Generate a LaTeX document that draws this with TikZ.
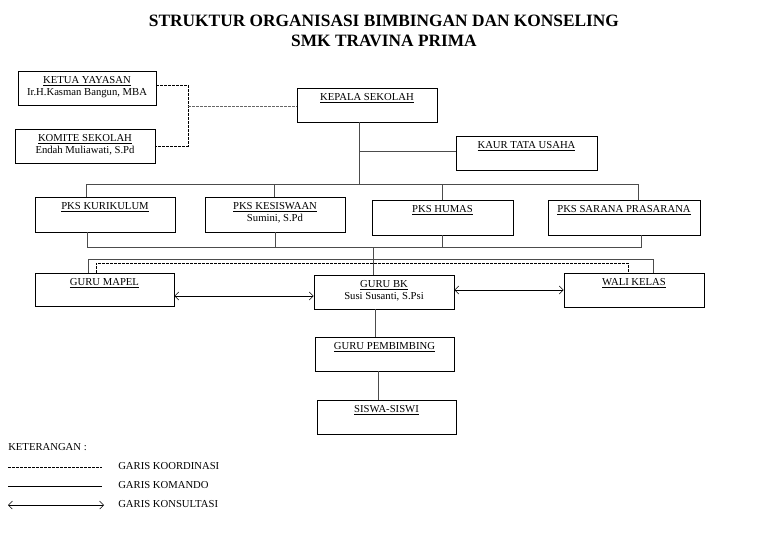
\documentclass[tikz,border=0pt]{standalone}
\usepackage{fontspec}
\setmainfont{Liberation Serif}
\usetikzlibrary{fit,arrows.meta}
\newcommand\mybx[6]{\node[draw,line width=0.6pt,inner sep=0pt,fit={(#2,#3)(#4,#5)}] (#1) {};
\node[anchor=north,inner sep=1pt,align=center,font=\fontsize{8}{9}\selectfont,yshift=-3pt] at (#1.north) {#6};}
\begin{document}
\begin{tikzpicture}[x=0.75pt,y=-0.75pt,
 ln/.style={line width=0.4pt,black!70},
 dsh/.style={line width=0.5pt,dashed,dash pattern=on 2pt off 1pt},
 arr/.style={line width=0.4pt,{Straight Barb[length=3pt]}-{Straight Barb[length=3pt]}}]
\useasboundingbox (0,0) rectangle (768,543);
\node[font=\bfseries\fontsize{13}{15}\selectfont,align=center] (title) at (384,31) {STRUKTUR ORGANISASI BIMBINGAN DAN KONSELING\\SMK TRAVINA PRIMA};
\mybx{ketua}{18}{71}{156}{105}{\underline{KETUA YAYASAN}\\Ir.H.Kasman Bangun, MBA}
\mybx{komite}{15}{129}{155}{163}{\underline{KOMITE SEKOLAH}\\Endah Muliawati, S.Pd}
\mybx{kepala}{297}{88}{437}{122}{\underline{KEPALA SEKOLAH}}
\mybx{kaur}{456}{136}{597}{170}{\underline{KAUR TATA USAHA}}
\mybx{kur}{35}{197}{175}{232}{\underline{PKS KURIKULUM}}
\mybx{kes}{205}{197}{345}{232}{\underline{PKS KESISWAAN}\\Sumini, S.Pd}
\mybx{hum}{372}{200}{513}{235}{\underline{PKS HUMAS}}
\mybx{sar}{548}{200}{700}{235}{\underline{PKS SARANA PRASARANA}}
\mybx{mapel}{35}{273}{174}{306}{\underline{GURU MAPEL}}
\mybx{bk}{314}{275}{454}{309}{\underline{GURU BK}\\Susi Susanti, S.Psi}
\mybx{wali}{564}{273}{704}{307}{\underline{WALI KELAS}}
\mybx{pemb}{315}{337}{454}{371}{\underline{GURU PEMBIMBING}}
\mybx{siswa}{317}{400}{456}{434}{\underline{SISWA-SISWI}}
% coordination
\coordinate (d1) at (188,85); \coordinate (d2) at (188,146); \coordinate (dm) at (188,106);
\draw[dsh] (ketua.east|-d1) -- (d1) -- (d2) -- (komite.east|-d2);
\draw[dsh,black!60] (dm) -- (kepala.west|-dm);
% command
\coordinate (k1) at (359,184); \coordinate (k2) at (359,151);
\draw[ln] (kepala.south-|k1) -- (k1);
\draw[ln] (k2) -- (kaur.west|-k2);
\draw[ln] (86,197) -- (86,184) -- (638,184) -- (638,200);
\draw[ln] (274,184) -- (274,197); \draw[ln] (442,184) -- (442,200);
\draw[ln] (87,232) -- (87,247) -- (641,247) -- (641,235);
\draw[ln] (275,232) -- (275,247); \draw[ln] (442,235) -- (442,247);
\coordinate (b1) at (373,247);
\draw[ln] (b1) -- (bk.north-|b1);
\draw[ln] (88,273) -- (88,259) -- (653,259) -- (653,273);
\draw[dsh] (96,273) -- (96,263) -- (628,263) -- (628,273);
\draw[arr] (mapel.east|-bk) ++(0,-3pt) coordinate (a1) -- (bk.west|-a1);
\draw[arr] (bk.east|-wali) ++(0,0) coordinate (a2) -- (wali.west|-a2);
\coordinate (p1) at (375,300); \coordinate (p2) at (378,300);
\draw[ln] (bk.south-|p1) -- (pemb.north-|p1);
\draw[ln] (pemb.south-|p2) -- (siswa.north-|p2);
% legend
\node[anchor=west,font=\fontsize{8}{9}\selectfont,inner sep=0] (ket) at (8,447) {KETERANGAN :};
\coordinate (l1a) at (8,467); \coordinate (l1b) at (102,467);
\coordinate (l2a) at (8,486); \coordinate (l2b) at (102,486);
\coordinate (l3a) at (8,505); \coordinate (l3b) at (104,505);
\draw[dsh] (l1a) -- (l1b); \draw[line width=0.6pt] (l2a) -- (l2b); \draw[arr] (l3a) -- (l3b);
\node[anchor=west,font=\fontsize{8}{9}\selectfont,inner sep=0] (g1) at (118,466) {GARIS KOORDINASI};
\node[anchor=west,font=\fontsize{8}{9}\selectfont,inner sep=0] (g2) at (118,485) {GARIS KOMANDO};
\node[anchor=west,font=\fontsize{8}{9}\selectfont,inner sep=0] (g3) at (118,504) {GARIS KONSULTASI};
\end{tikzpicture}
\end{document}
